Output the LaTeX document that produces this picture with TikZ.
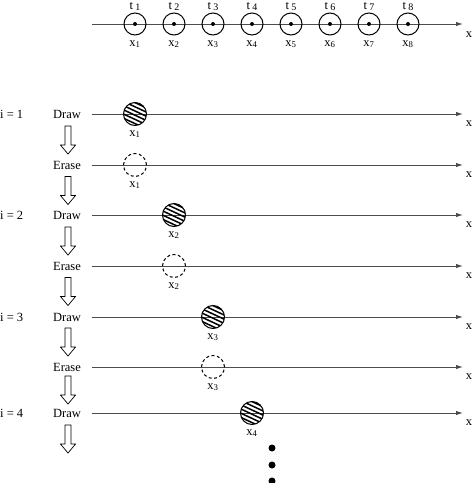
\documentclass[tikz,border=0pt]{standalone}
\usepackage{fontspec}
\setmainfont{Liberation Serif}
\usetikzlibrary{arrows.meta}
\begin{document}
\begin{tikzpicture}[x=1pt,y=-1pt,
  every node/.style={font=\fontsize{12.5}{14}\selectfont, inner sep=0pt},
  axis/.style={draw=black!70, line width=1pt, -{Latex[length=7pt,width=4.5pt]}},
  ring/.style={circle, draw, line width=1pt, minimum size=22pt},
  ctr/.style={circle, fill, minimum size=4pt},
  hatchcirc/.style={circle, draw, line width=1pt, minimum size=23pt,
    path picture={\foreach \k in {-24,-19.8,...,24}
      \draw[line width=1.5pt, shift={(path picture bounding box.center)}] (-15,\k-7) -- ++(30,14);}},
  dashcirc/.style={circle, draw, dashed, dash pattern=on 3pt off 2.5pt, line width=1pt, minimum size=23pt},
  lbl/.style={anchor=center},
  sub/.style={anchor=base},
  dotnode/.style={circle, fill, minimum size=7pt},
  downarr/.pic={\draw[line width=0.7pt] (-3,-14) -- (3,-14) -- (3,5) -- (7.5,5) -- (0,14) -- (-7.5,5) -- (-3,5) -- cycle;}
]
\useasboundingbox (0,0) rectangle (474,483);

% top axis
\coordinate (TS) at (92,24);
\coordinate (TE) at (463,24);
\draw[axis] (TS) -- (TE);
\node[sub] (TX) at (469,37) {x};
\foreach \i in {1,...,8} {
  \pgfmathsetmacro{\cx}{135+39*(\i-1)}
  \node[ring] (T\i) at (\cx,24) {};
  \node[ctr] (TC\i) at (\cx,24) {};
  \node[sub] (TT\i) at (\cx,9.5) {t\,\raisebox{-1pt}{\fontsize{10}{10}\selectfont\i}};
  \node[sub] (TL\i) at (\cx,46) {x\textsubscript{\i}};
}

% rows
\foreach \y/\lab/\k/\cx/\sty [count=\r] in {
  114/Draw/1/135/hatchcirc, 165/Erase/1/135/dashcirc,
  215/Draw/2/174/hatchcirc, 266/Erase/2/174/dashcirc,
  317/Draw/3/213/hatchcirc, 367/Erase/3/213/dashcirc,
  413/Draw/4/252/hatchcirc} {
  \node[lbl] (L\r) at (67,\y) {\lab};
  \coordinate (S\r) at (92,\y);
  \coordinate (E\r) at (463,\y);
  \draw[axis] (S\r) -- (E\r);
  \node[sub] (X\r) at (469,\y+12.5) {x};
  \node[\sty] (C\r) at (\cx,\y) {};
  \node[sub] (CL\r) at (\cx,\y+22) {x\textsubscript{\k}};
}

% iteration labels
\node[anchor=west] (I1) at (0,114) {i = 1};
\node[anchor=west] (I2) at (0,215) {i = 2};
\node[anchor=west] (I3) at (0,317) {i = 3};
\node[anchor=west] (I4) at (0,413) {i = 4};

% down arrows
\pic at (68,140) {downarr};
\pic at (68,190.5) {downarr};
\pic at (68,241) {downarr};
\pic at (68,291.5) {downarr};
\pic at (68,342) {downarr};
\pic at (68,390) {downarr};
\pic at (68,439) {downarr};

% continuation dots
\node[dotnode] (D1) at (272,448) {};
\node[dotnode] (D2) at (272,465) {};
\node[dotnode] (D3) at (272,481) {};
\end{tikzpicture}
\end{document}
